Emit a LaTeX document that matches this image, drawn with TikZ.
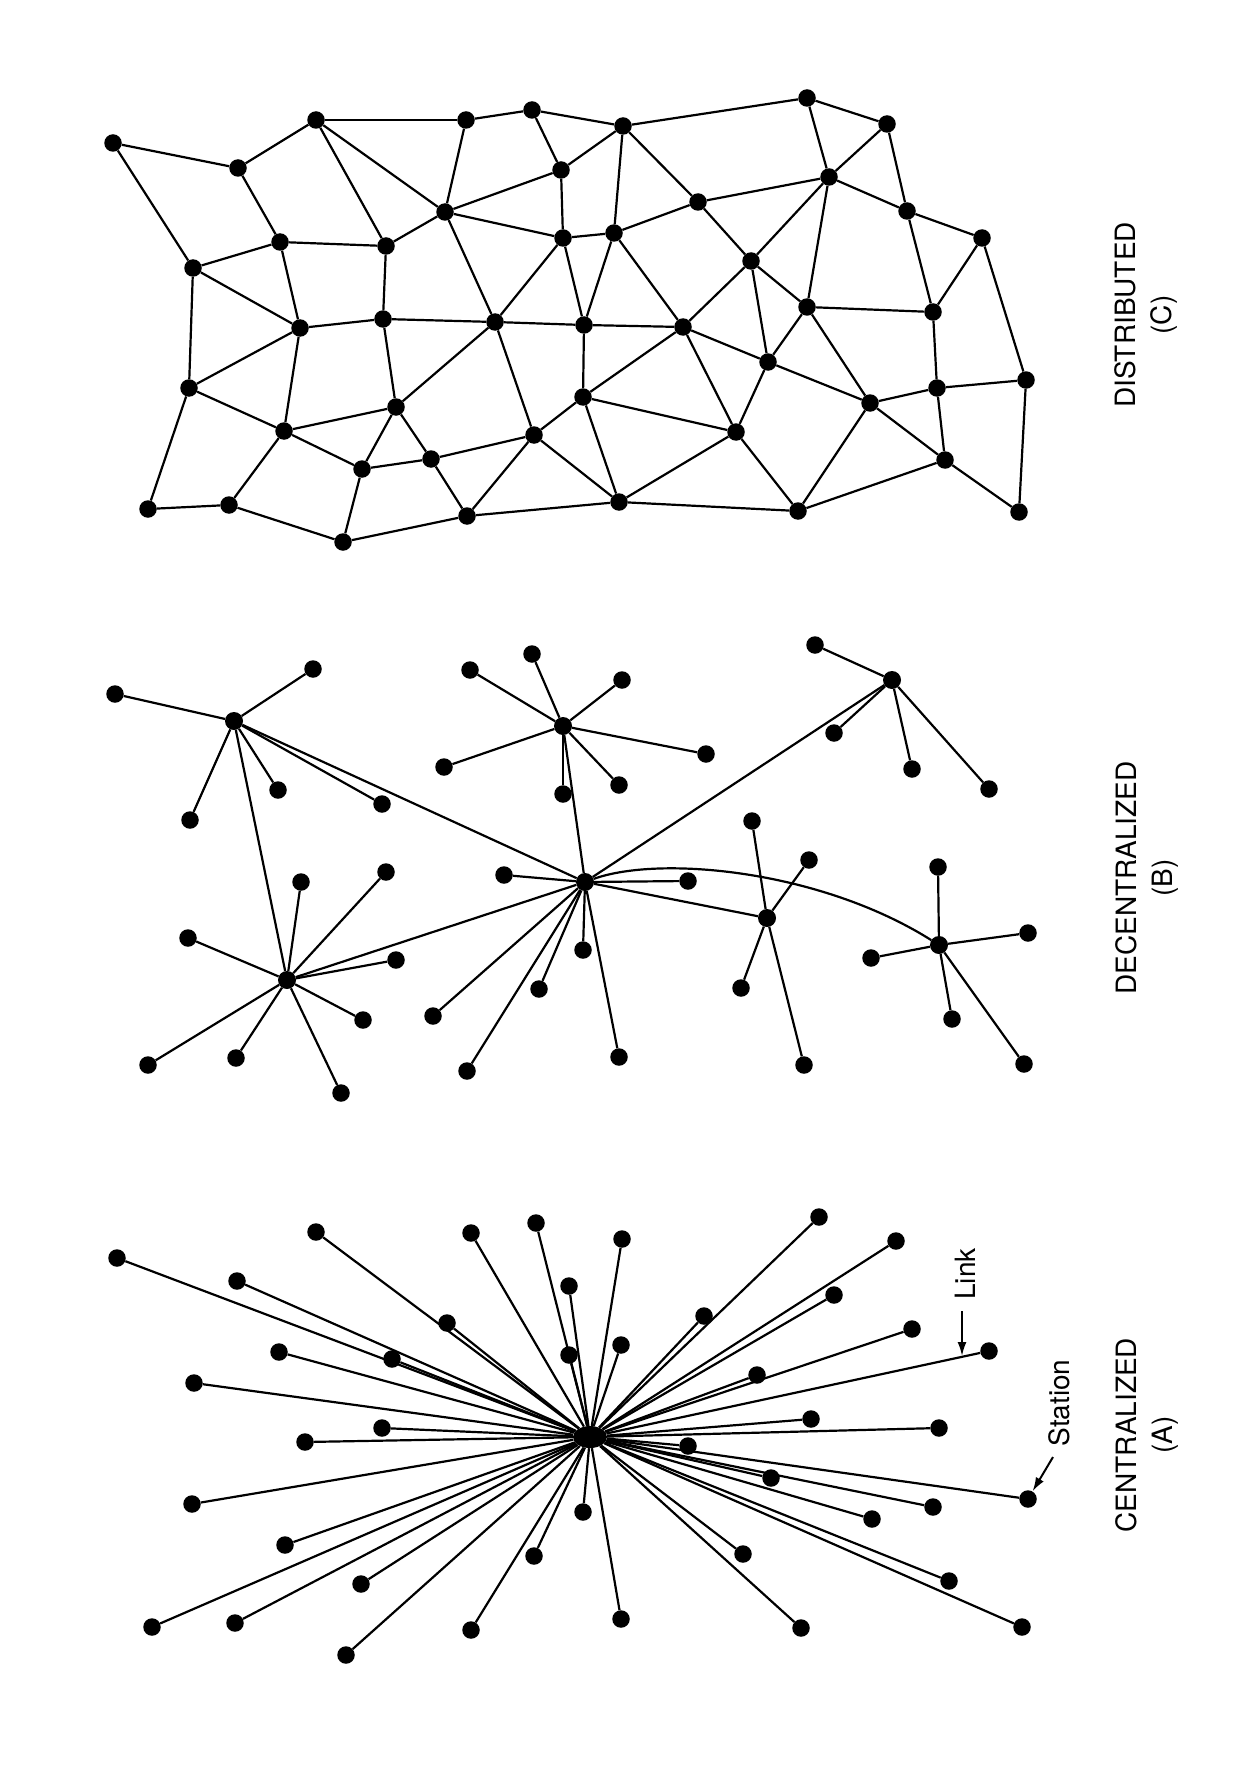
\documentclass[tikz,border=0pt]{standalone}
\usepackage{fontspec}
\setmainfont{TeX Gyre Heros}
\usetikzlibrary{arrows.meta,shapes.geometric}
\begin{document}
\begin{tikzpicture}[x=1pt,y=-1pt,
  dot/.style={circle,fill=black,inner sep=0pt,minimum size=17.5pt},
  hub/.style={circle,fill=black,inner sep=0pt,minimum size=18pt},
  link/.style={line width=2.2pt,black},
  pointer/.style={line width=2pt,black,-{Latex[length=14pt,width=9pt]}},
  lbl/.style={rotate=90,align=center,inner sep=0pt,font=\fontsize{28pt}{36pt}\selectfont},
  note/.style={rotate=90,inner sep=0pt,font=\fontsize{28pt}{34pt}\selectfont}]
\fill[white] (0,0) rectangle (1240,1768);
\useasboundingbox (0,0) rectangle (1240,1768);

% ---------------- (C) DISTRIBUTED ----------------
\foreach \n/\x/\y in {c1/113/143,c2/238/168,c3/316/120,c4/466/120,c5/532/110,c6/623/126,
  c7/807/98,c8/887/124,c9/193/268,c10/280/242,c11/386/246,c12/445/212,c13/561/170,
  c14/563/238,c15/614/233,c16/698/202,c17/829/177,c18/907/211,c19/982/238,c20/751/261,
  c21/807/307,c22/933/312,c23/300/328,c24/383/319,c25/495/322,c26/584/325,c27/683/327,
  c28/189/388,c29/768/362,c30/1026/380,c31/937/388,c32/396/407,c33/583/397,c34/870/403,
  c35/284/431,c36/534/435,c37/736/432,c38/431/459,c39/362/469,c40/945/460,c41/148/509,
  c42/229/505,c43/467/516,c44/619/502,c45/798/511,c46/1019/512,c47/343/542}
  \node[dot] (\n) at (\x,\y) {};
\foreach \a/\b in {c1/c2,c1/c9,c2/c3,c2/c10,c3/c4,c3/c11,c3/c12,c4/c5,c4/c12,c5/c6,c5/c13,
  c6/c7,c6/c13,c6/c15,c6/c16,c7/c8,c7/c17,c8/c17,c8/c18,c9/c10,c9/c23,c9/c28,c10/c11,
  c10/c23,c11/c12,c11/c24,c12/c13,c12/c14,c12/c25,c13/c14,c14/c15,c14/c25,c14/c26,
  c15/c16,c15/c26,c15/c27,c16/c17,c16/c20,c17/c18,c17/c20,c17/c21,c18/c19,c18/c22,
  c19/c22,c19/c30,c20/c21,c20/c27,c20/c29,c21/c22,c21/c29,c21/c34,c22/c31,c23/c24,
  c23/c28,c23/c35,c24/c25,c24/c32,c25/c26,c25/c32,c25/c36,c26/c27,c26/c33,c27/c29,
  c27/c33,c27/c37,c28/c35,c28/c41,c29/c34,c29/c37,c30/c31,c30/c46,c31/c34,c31/c40,
  c32/c35,c32/c38,c32/c39,c33/c36,c33/c37,c33/c44,c34/c40,c34/c45,c35/c39,c35/c42,
  c36/c38,c36/c43,c36/c44,c37/c44,c37/c45,c38/c39,c38/c43,c39/c47,c40/c45,c40/c46,
  c41/c42,c42/c47,c43/c44,c43/c47,c44/c45}
  \draw[link] (\a) -- (\b);
\node[lbl] (tc) at (1146,315) {DISTRIBUTED\\(C)};

% ---------------- (B) DECENTRALIZED ----------------
\foreach \n/\x/\y in {bc/585/882,b1/234/721,b2/287/980,b3/563/726,b4/892/680,b5/767/918,b6/939/945}
  \node[hub] (\n) at (\x,\y) {};
\foreach \n/\x/\y/\h in {
  l11/115/694/b1,l12/313/669/b1,l13/190/820/b1,l14/278/790/b1,l15/382/804/b1,
  l21/301/882/b2,l22/386/872/b2,l23/188/938/b2,l24/396/960/b2,l25/363/1020/b2,
  l26/148/1065/b2,l27/236/1058/b2,l28/341/1093/b2,
  l31/470/670/b3,l32/532/654/b3,l33/622/680/b3,l34/706/754/b3,l35/619/785/b3,
  l36/563/794/b3,l37/444/767/b3,
  l41/815/645/b4,l42/834/733/b4,l43/912/769/b4,l44/989/789/b4,
  l51/752/821/b5,l52/809/860/b5,l53/741/988/b5,l54/804/1065/b5,
  l61/938/867/b6,l62/1028/933/b6,l63/871/958/b6,l64/952/1019/b6,l65/1024/1064/b6,
  l01/504/875/bc,l02/688/881/bc,l03/583/950/bc,l04/539/989/bc,l05/433/1016/bc,
  l06/467/1071/bc,l07/619/1057/bc}
  {\node[dot] (\n) at (\x,\y) {};
   \draw[link] (\h) -- (\n);}
\foreach \a/\b in {bc/b1,bc/b2,bc/b3,bc/b4,bc/b5,b1/b2}
  \draw[link] (\a) -- (\b);
\draw[link] (bc) .. controls (660,855) and (820,870) .. (b6);
\node[lbl] (tb) at (1147,878) {DECENTRALIZED\\(B)};

% ---------------- (A) CENTRALIZED ----------------
\node[ellipse,fill=black,inner sep=0pt,minimum width=34pt,minimum height=22pt] (a0) at (590,1437) {};
\foreach \n/\x/\y in {a1/117/1258,a2/316/1232,a3/471/1233,a4/536/1223,a5/622/1239,
  a6/819/1217,a7/896/1241,a8/237/1281,a9/569/1286,a10/834/1295,a11/447/1323,
  a12/704/1316,a13/912/1329,a14/989/1351,a15/279/1352,a16/392/1359,a17/569/1355,
  a18/621/1345,a19/757/1375,a20/194/1383,a21/382/1428,a22/305/1442,a23/811/1419,
  a24/939/1428,a25/688/1446,a26/771/1478,a27/192/1504,a28/1028/1499,a29/933/1507,
  a30/583/1512,a31/872/1519,a32/285/1545,a33/743/1554,a34/534/1556,a35/361/1584,
  a36/949/1581,a37/152/1627,a38/235/1623,a39/621/1619,a40/471/1630,a41/801/1628,
  a42/1022/1627,a43/346/1655}
  {\node[dot] (\n) at (\x,\y) {};
   \draw[link] (a0) -- (\n);}
\node[lbl] (ta) at (1147,1435) {CENTRALIZED\\(A)};

\node[note] (lk) at (965,1274) {Link};
\coordinate (lkA) at (962,1311);
\coordinate (lkB) at (962,1356);
\draw[pointer] (lkA) -- (lkB);

\node[note] (st) at (1059,1403) {Station};
\coordinate (stA) at (1053,1457);
\draw[pointer] (stA) -- (a28);
\end{tikzpicture}
\end{document}
